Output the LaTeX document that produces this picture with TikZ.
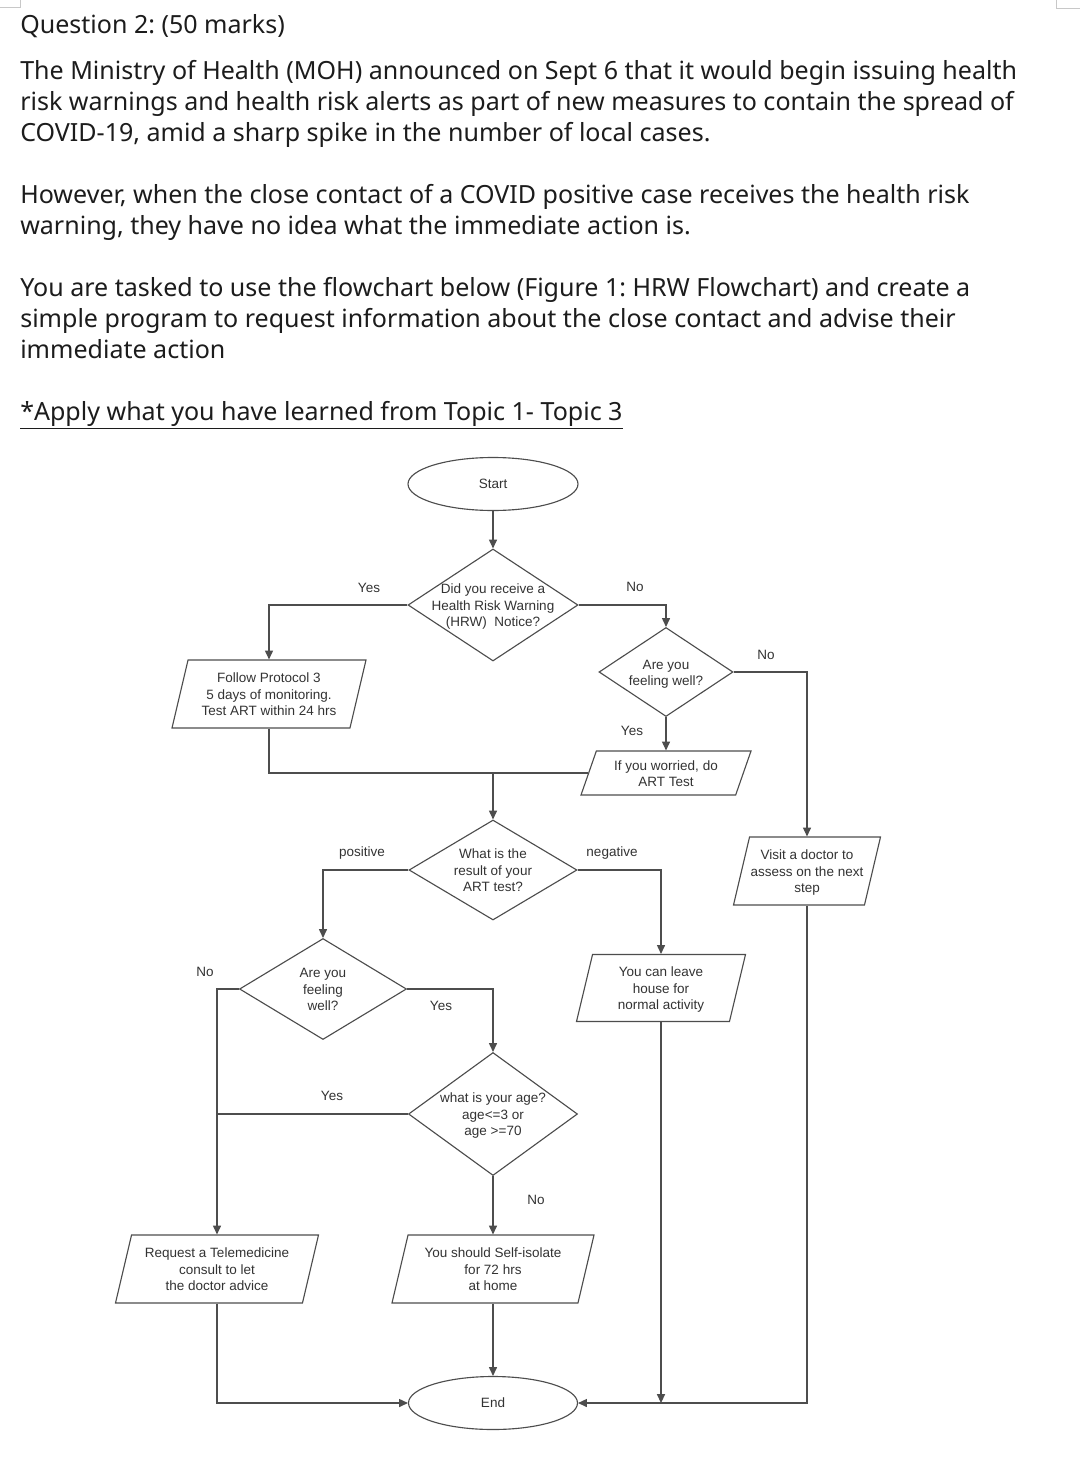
\documentclass[tikz,border=0pt]{standalone}
\usepackage{fontspec}
\setmainfont{Noto Sans}
\newfontfamily\chartfont{Liberation Sans}
\usetikzlibrary{positioning, shapes.geometric, arrows.meta}
\frenchspacing

\definecolor{ink}{HTML}{1C1C1C}
\definecolor{chartink}{HTML}{333333}
\definecolor{chartline}{HTML}{4D4D4D}
\definecolor{markgray}{HTML}{C8C8C8}

\newcommand{\pxu}{0.025cm}
\newcommand{\boxlines}[1]{\makebox[0pt]{\raisebox{-1.4pt}[\height][\depth]{\begin{tabular}{@{}c@{}}#1\end{tabular}}}}
\newcommand{\hl}[1]{{\setlength{\fboxsep}{0pt}\colorbox{white}{#1}}}

\begin{document}
\begin{tikzpicture}[x=\pxu, y=-\pxu, >={Triangle[length=2.2mm, width=2mm]},
  chart/.style={font=\chartfont\fontsize{9.6}{11.7}\selectfont, text=chartink},
  para/.style={anchor=north west, inner sep=0pt, align=left, text=ink, font=\fontsize{17.8}{22}\selectfont},
  terminal/.style={chart, draw=chartline, line width=0.8pt, ellipse, minimum width=170*\pxu, minimum height=53*\pxu, inner sep=0pt},
  decision/.style={chart, draw=chartline, line width=0.8pt, diamond, inner sep=0pt},
  io/.style={chart, draw=chartline, line width=0.8pt, trapezium, trapezium left angle=72, trapezium right angle=108,
    trapezium stretches body, minimum height=68*\pxu, inner sep=0pt},
  lbl/.style={chart, inner sep=0pt},
  link/.style={draw=chartline, line width=0.8pt}]

  \fill[white] (0,0) rectangle (1080,1470);
  \useasboundingbox (0,0) rectangle (1080,1470);
  \draw[markgray] (0,7) -| (20,0);
  \draw[markgray] (1056,0) |- (1080,8);

  % question text
  \node[para, anchor=base west] (title) at (20,34) {Question 2: (50 marks)};
  \node[para] (intro) at (20,60.4) {The Ministry of Health (MOH) announced on Sept 6 that it would begin issuing health\\
    risk warnings and health risk alerts as part of new measures to contain the spread of\\
    COVID-19, amid a sharp spike in the number of local cases.};
  \node[para] (problem) at (20,184.4) {However, when the close contact of a COVID positive case receives the health risk\\
    warning, they have no idea what the immediate action is.};
  \node[para] (task) at (20,277.4) {You are tasked to use the flowchart below (Figure 1: HRW Flowchart) and create a\\
    simple program to request information about the close contact and advise their\\
    immediate action};
  \node[para, anchor=base west] (hint) at (20,420.3) {\underline{*Apply what you have learned from Topic 1- Topic 3}};

  % flowchart
  \node[terminal] (start) at (493,484) {Start};
  \node[decision, minimum width=170*\pxu, minimum height=112*\pxu] (hrw) at (493,605)
    {\boxlines{\hl{Did you receive a}\\Health Risk Warning\\(HRW)\ \ Notice?}};
  \node[io, minimum width=194*\pxu] (protocol) at (269,694)
    {\boxlines{Follow Protocol 3\\5 days of monitoring.\\Test ART within 24 hrs}};
  \node[decision, minimum width=134*\pxu, minimum height=89*\pxu] (well 1) at (666,672)
    {\boxlines{Are you\\feeling well?}};
  \node[io, minimum width=170*\pxu, minimum height=44*\pxu, trapezium left angle=65, trapezium right angle=115] (worried) at (666,773)
    {\boxlines{If you worried, do\\ART Test}};
  \node[io, minimum width=147*\pxu] (doctor) at (807,871)
    {\boxlines{Visit a doctor to\\assess on the next\\step}};
  \node[decision, minimum width=168*\pxu, minimum height=100*\pxu] (art) at (493,870)
    {\boxlines{What is the\\result of your\\ART test?}};
  \node[decision, minimum width=167*\pxu, minimum height=101*\pxu] (well 2) at (323,989)
    {\boxlines{Are you\\feeling\\well?}};
  \node[io, minimum width=169*\pxu, minimum height=67*\pxu] (leave) at (661,988)
    {\boxlines{You can leave\\house for\\normal activity}};
  \node[decision, minimum width=169*\pxu, minimum height=123*\pxu] (age) at (493,1114)
    {\boxlines{\hl{what is your age?}\\age<=3 or\\age >=70}};
  \node[io, minimum width=203*\pxu] (tele) at (217,1269)
    {\boxlines{Request a Telemedicine\\consult to let\\the doctor advice}};
  \node[io, minimum width=202*\pxu] (isolate) at (493,1269)
    {\boxlines{You should Self-isolate\\for 72 hrs\\at home}};
  \node[terminal, minimum width=169*\pxu] (end) at (493,1403) {End};

  % branch labels
  \node[lbl] (yes 1) at (369,588) {Yes};
  \node[lbl] (no 1) at (635,587) {No};
  \node[lbl] (no 2) at (766,655) {No};
  \node[lbl] (yes 2) at (632,731) {Yes};
  \node[lbl] (pos) at (362,853) {positive};
  \node[lbl] (neg) at (612,853) {negative};
  \node[lbl] (no 3) at (205,972) {No};
  \node[lbl] (yes 3) at (441,1006) {Yes};
  \node[lbl] (yes 4) at (332,1096) {Yes};
  \node[lbl] (no 4) at (536,1200) {No};

  \draw[link, ->] (start) -- (hrw);
  \draw[link, ->] (hrw.west) -| (protocol.north);
  \draw[link, ->] (hrw.east) -| (well 1.north);
  \draw[link, ->] (well 1.east) -| (doctor.north);
  \draw[link, ->] (well 1) -- (worried);
  \draw[link] (protocol.south) |- (worried.west);
  \coordinate (merge) at (art.north |- worried.west);
  \draw[link, ->] (merge) -- (art.north);
  \draw[link, ->] (art.west) -| (well 2.north);
  \draw[link, ->] (art.east) -| (leave.north);
  \draw[link, ->] (well 2.west) -| (tele.north);
  \draw[link, ->] (well 2.east) -| (age.north);
  \draw[link] (age.west) -- (age.west -| tele.north);
  \draw[link, ->] (age) -- (isolate);
  \draw[link, ->] (isolate) -- (end);
  \draw[link, ->] (tele.south) |- (end.west);
  \draw[link, ->] (doctor.south) |- (end.east);
  \draw[link, ->] (leave.south) -- (leave.south |- end.east);
\end{tikzpicture}
\end{document}
